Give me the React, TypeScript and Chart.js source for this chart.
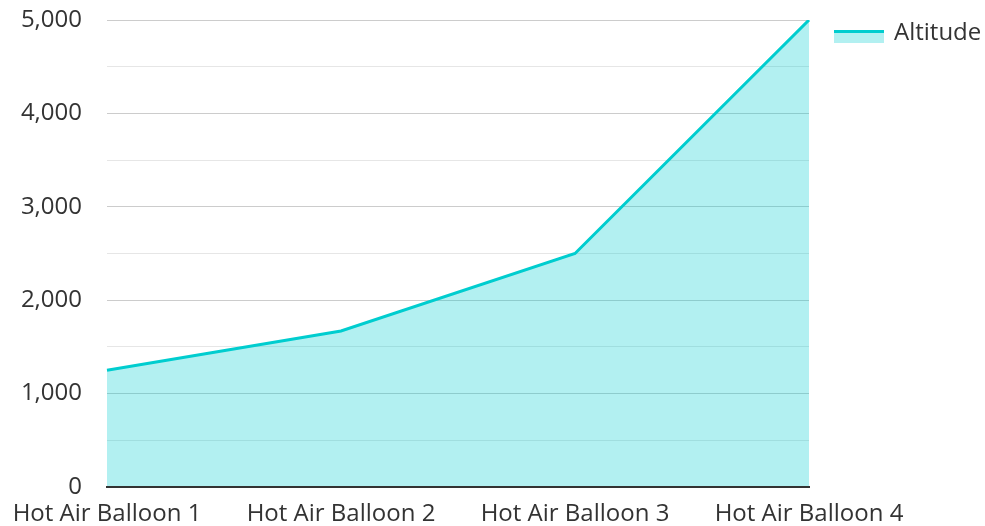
import React, { useEffect, useRef } from "react";
import { Chart, registerables } from "chart.js";

Chart.register(...registerables);

const categories = ["Hot Air Balloon 1", "Hot Air Balloon 2", "Hot Air Balloon 3", "Hot Air Balloon 4"];
const altitude = [1250, 1670, 2500, 5000];
const seriesName = "Altitude";
const yMin = 0;
const yMax = 5000;
const yStep = 500;

const LINE = "rgb(0,205,207)";
const FILL = "rgba(0,205,207,0.3)";
const TEXT = "#333333";
const FONT = "'Open Sans', sans-serif";

const legendPlugin = {
  id: "customLegend",
  afterDraw(chart: any) {
    const ctx = chart.ctx;
    const area = chart.chartArea;
    const x = area.right + 25;
    const y = 30;
    ctx.save();
    ctx.fillStyle = FILL;
    ctx.fillRect(x, y, 50, 13);
    ctx.strokeStyle = LINE;
    ctx.lineWidth = 3;
    ctx.beginPath();
    ctx.moveTo(x, y + 1.5);
    ctx.lineTo(x + 50, y + 1.5);
    ctx.stroke();
    ctx.fillStyle = TEXT;
    ctx.font = `24px ${FONT}`;
    ctx.textBaseline = "alphabetic";
    ctx.textAlign = "left";
    ctx.fillText(chart.data.datasets[0].label, x + 60, 40);
    ctx.restore();
  },
};

export default function App() {
  const ref = useRef<HTMLCanvasElement>(null);
  useEffect(() => {
    document.body.style.margin = "0";
    const chart = new Chart(ref.current as HTMLCanvasElement, {
      type: "line",
      data: {
        labels: categories,
        datasets: [
          {
            label: seriesName,
            data: altitude,
            borderColor: LINE,
            backgroundColor: FILL,
            borderWidth: 3,
            fill: "origin",
            pointRadius: 0,
            tension: 0,
          },
        ],
      },
      plugins: [legendPlugin],
      options: {
        animation: false,
        responsive: false,
        layout: { padding: { top: 0, right: 176, left: 0, bottom: 0 } },
        plugins: { legend: { display: false }, tooltip: { enabled: false } },
        scales: {
          x: {
            offset: false,
            grid: { display: false },
            border: { display: true, color: "#333333", width: 2, z: 1 },
            ticks: {
              font: { family: FONT, size: 24 },
              color: TEXT,
              padding: 5,
              maxRotation: 0,
              autoSkip: false,
            },
            afterFit(scale: any) {
              scale.height = 39;
            },
          },
          y: {
            min: yMin,
            max: yMax,
            border: { display: false },
            grid: {
              drawTicks: false,
              color: (c: any) => (c.tick && c.tick.value % 1000 === 0 ? "#cccccc" : "#e6e6e6"),
            },
            ticks: {
              stepSize: yStep,
              font: { family: FONT, size: 24 },
              color: TEXT,
              padding: 25,
              autoSkip: false,
              callback: (v: any) => (Number(v) % 1000 === 0 ? Number(v).toLocaleString("en-US") : ""),
            },
            afterFit(scale: any) {
              scale.width = 107;
              scale.paddingTop = 20;
              scale.paddingBottom = 0;
            },
          },
        },
      },
    });
    return () => chart.destroy();
  }, []);
  return (
    <div style={{ width: 985, height: 526 }}>
      <canvas ref={ref} width={985} height={526} />
    </div>
  );
}
